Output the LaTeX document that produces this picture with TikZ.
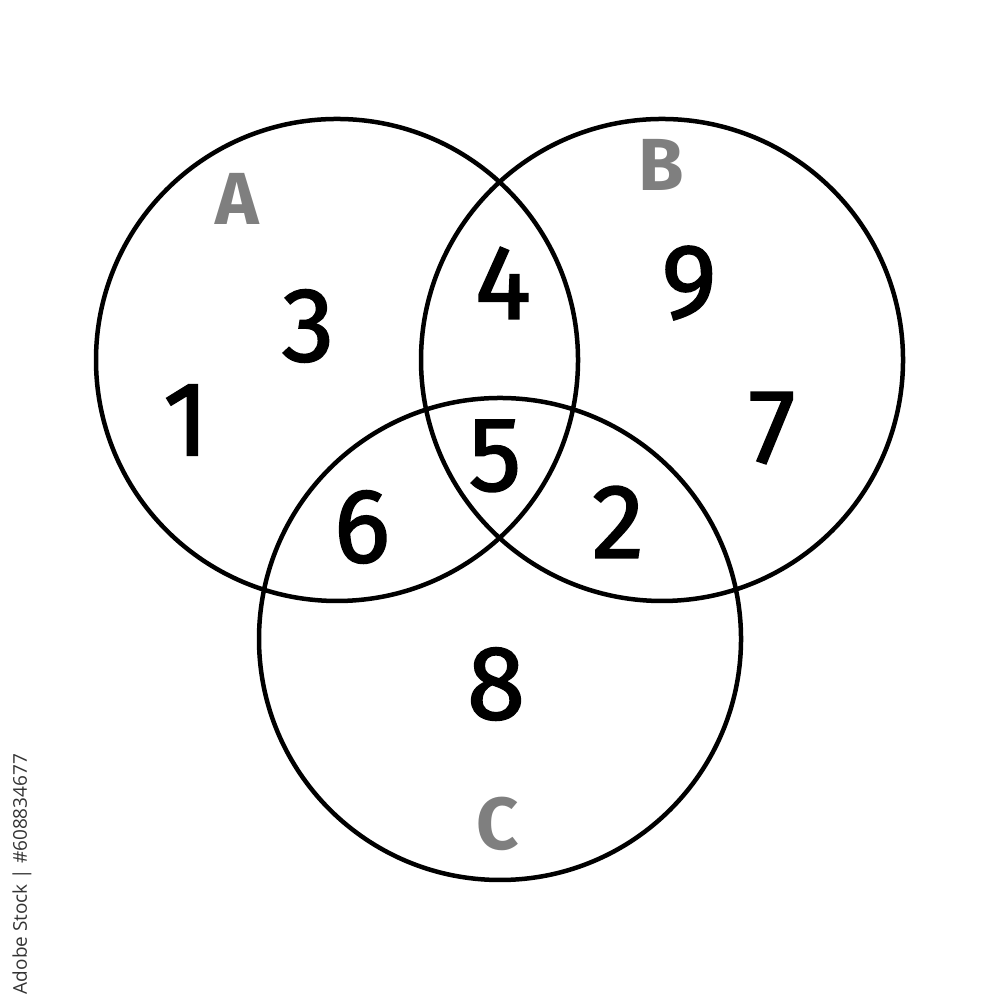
\documentclass[tikz,border=0pt]{standalone}
\usepackage{fontspec}
\setmainfont{Fira Sans}
\newfontfamily\digitfont{Fira Sans}[FakeBold=1.6]
\newfontfamily\markfont{Open Sans}
\definecolor{labelgray}{HTML}{7F7F7F}

\tikzset{
  setcircle/.style={draw=black, line width=0.45mm},
  num/.style={font=\digitfont\fontsize{30}{31}\selectfont, inner sep=0pt},
  setname/.style={font=\fontsize{21}{22}\selectfont\bfseries, text=labelgray, inner sep=0pt}
}

\begin{document}
\begin{tikzpicture}
    \useasboundingbox (0,0) rectangle (10,10);
    % the three sets
    \coordinate (ca) at (3.37,6.40);
    \coordinate (cb) at (6.62,6.40);
    \coordinate (cc) at (5.00,3.61);
    \draw[setcircle] (ca) circle (2.41);
    \draw[setcircle] (cb) circle (2.41);
    \draw[setcircle] (cc) circle (2.41);
    % set names
    \node[setname] (la) at (2.37,8.01) {A};
    \node[setname] (lb) at (6.61,8.35) {B};
    \node[setname] (lc) at (4.98,1.76) {C};
    % elements
    \node[num] (n1) at (1.86,5.80) {1};
    \node[num] (n3) at (3.08,6.74) {3};
    \node[num] (n4) at (5.03,7.17) {4};
    \node[num] (n9) at (6.89,7.17) {9};
    \node[num] (n7) at (7.72,5.72) {7};
    \node[num] (n5) at (4.95,5.44) {5};
    \node[num] (n6) at (3.62,4.73) {6};
    \node[num] (n2) at (6.18,4.78) {2};
    \node[num] (n8) at (4.96,3.16) {8};
    % stock number at the left edge
    \node[rotate=90, font=\markfont\fontsize{5.4}{6}\selectfont, text=black!80, inner sep=0pt] (mark) at (0.22,1.26) {Adobe Stock | \#608834677};
\end{tikzpicture}
\end{document}
